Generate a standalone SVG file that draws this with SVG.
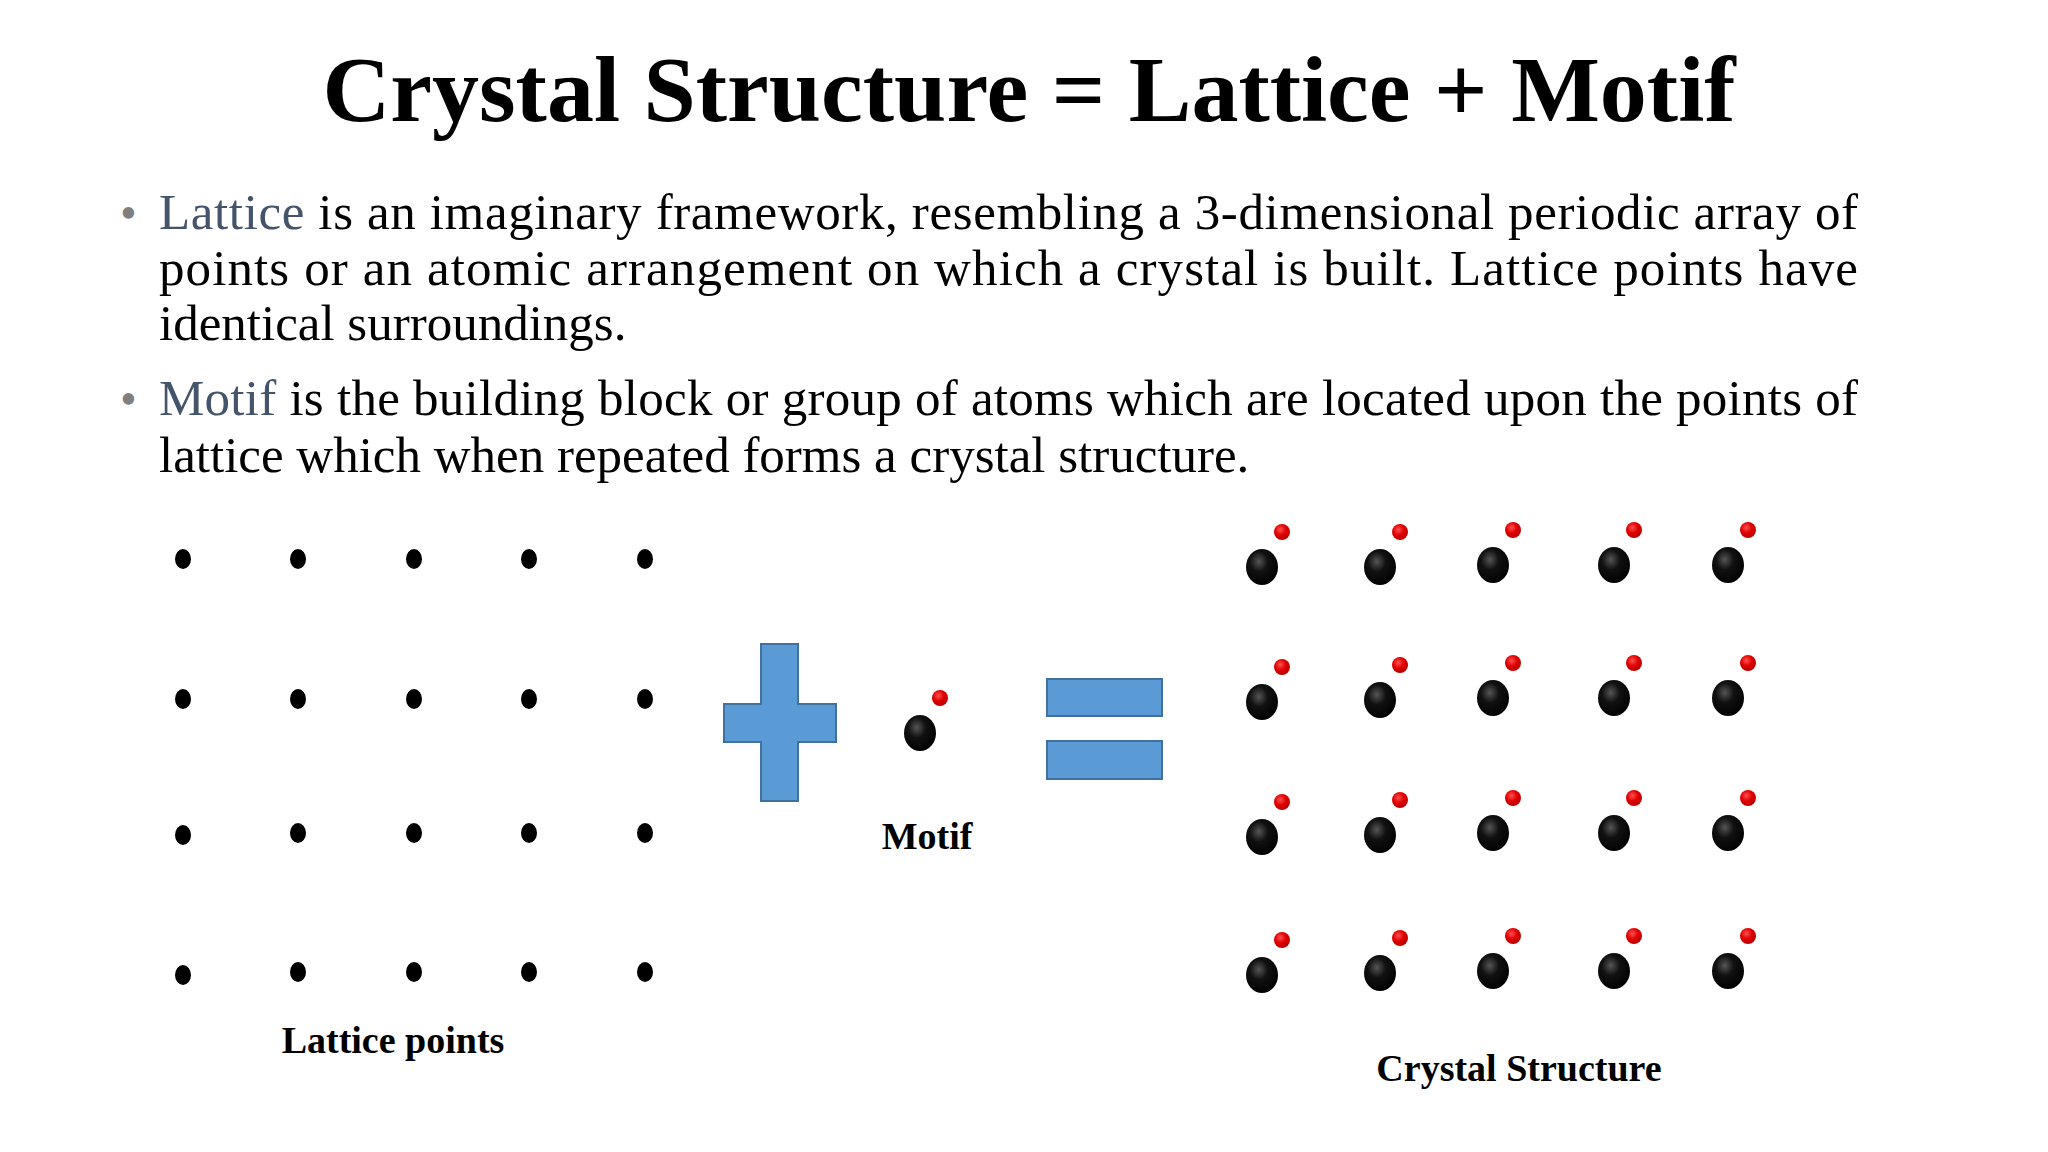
<svg xmlns="http://www.w3.org/2000/svg" width="2048" height="1152" viewBox="0 0 2048 1152">
<defs>
<radialGradient id="gb" cx="0.4" cy="0.35" r="0.7"><stop offset="0" stop-color="#555"/><stop offset="0.4" stop-color="#111"/><stop offset="1" stop-color="#000"/></radialGradient>
<radialGradient id="gr" cx="0.4" cy="0.35" r="0.7"><stop offset="0" stop-color="#ff5050"/><stop offset="0.5" stop-color="#e00000"/><stop offset="1" stop-color="#b00000"/></radialGradient>
<g id="atom"><ellipse cx="0" cy="0" rx="16" ry="18" fill="url(#gb)"/><circle cx="20" cy="-35" r="8" fill="url(#gr)"/></g>
<ellipse id="dot" cx="0" cy="0" rx="8" ry="10" fill="#000"/>
</defs>
<style>
.t{font-family:"Liberation Serif",serif;fill:#000}
.b{font-size:51px}
.h{fill:#44546A}
.bul{fill:#7F7F7F}
.lab{font-weight:bold;font-size:38px}
.bl{fill:#5B9BD5;stroke:#41719C;stroke-width:2}
</style>
<rect width="2048" height="1152" fill="#fff"/>
<g id="title"><text class="t" x="1029" y="121" text-anchor="middle" font-size="94" font-weight="bold">Crystal Structure = Lattice + Motif</text></g>
<g id="bullets">
<text class="t bul" x="120" y="229" font-size="48">•</text>
<text class="t b" x="159" y="229" textLength="1699" lengthAdjust="spacing"><tspan class="h">Lattice</tspan> is an imaginary framework, resembling a 3-dimensional periodic array of</text>
<text class="t b" x="159" y="285" textLength="1699" lengthAdjust="spacing">points or an atomic arrangement on which a crystal is built. Lattice points have</text>
<text class="t b" x="159" y="340">identical surroundings.</text>
<text class="t bul" x="120" y="415" font-size="48">•</text>
<text class="t b" x="159" y="415" textLength="1699" lengthAdjust="spacing"><tspan class="h">Motif</tspan> is the building block or group of atoms which are located upon the points of</text>
<text class="t b" x="159" y="472">lattice which when repeated forms a crystal structure.</text>
</g>
<g id="lattice">
<use href="#dot" x="183" y="559"/><use href="#dot" x="298" y="559"/><use href="#dot" x="414" y="559"/><use href="#dot" x="529" y="559"/><use href="#dot" x="645" y="559"/>
<use href="#dot" x="183" y="699"/><use href="#dot" x="298" y="699"/><use href="#dot" x="414" y="699"/><use href="#dot" x="529" y="699"/><use href="#dot" x="645" y="699"/>
<use href="#dot" x="183" y="835"/><use href="#dot" x="298" y="833"/><use href="#dot" x="414" y="833"/><use href="#dot" x="529" y="833"/><use href="#dot" x="645" y="833"/>
<use href="#dot" x="183" y="975"/><use href="#dot" x="298" y="972"/><use href="#dot" x="414" y="972"/><use href="#dot" x="529" y="972"/><use href="#dot" x="645" y="972"/>
<text class="t lab" x="393" y="1053" text-anchor="middle">Lattice points</text>
</g>
<g id="plus"><polygon class="bl" points="761,644 798,644 798,704 836,704 836,742 798,742 798,801 761,801 761,742 724,742 724,704 761,704"/></g>
<g id="motif"><use href="#atom" x="920" y="733"/><text class="t lab" x="927" y="849" text-anchor="middle">Motif</text></g>
<g id="equals"><rect class="bl" x="1047" y="679" width="115" height="37"/><rect class="bl" x="1047" y="741" width="115" height="38"/></g>
<g id="crystal">
<use href="#atom" x="1262" y="567"/><use href="#atom" x="1380" y="567"/><use href="#atom" x="1493" y="565"/><use href="#atom" x="1614" y="565"/><use href="#atom" x="1728" y="565"/>
<use href="#atom" x="1262" y="702"/><use href="#atom" x="1380" y="700"/><use href="#atom" x="1493" y="698"/><use href="#atom" x="1614" y="698"/><use href="#atom" x="1728" y="698"/>
<use href="#atom" x="1262" y="837"/><use href="#atom" x="1380" y="835"/><use href="#atom" x="1493" y="833"/><use href="#atom" x="1614" y="833"/><use href="#atom" x="1728" y="833"/>
<use href="#atom" x="1262" y="975"/><use href="#atom" x="1380" y="973"/><use href="#atom" x="1493" y="971"/><use href="#atom" x="1614" y="971"/><use href="#atom" x="1728" y="971"/>
<text class="t lab" x="1519" y="1081" text-anchor="middle">Crystal Structure</text>
</g>
</svg>
